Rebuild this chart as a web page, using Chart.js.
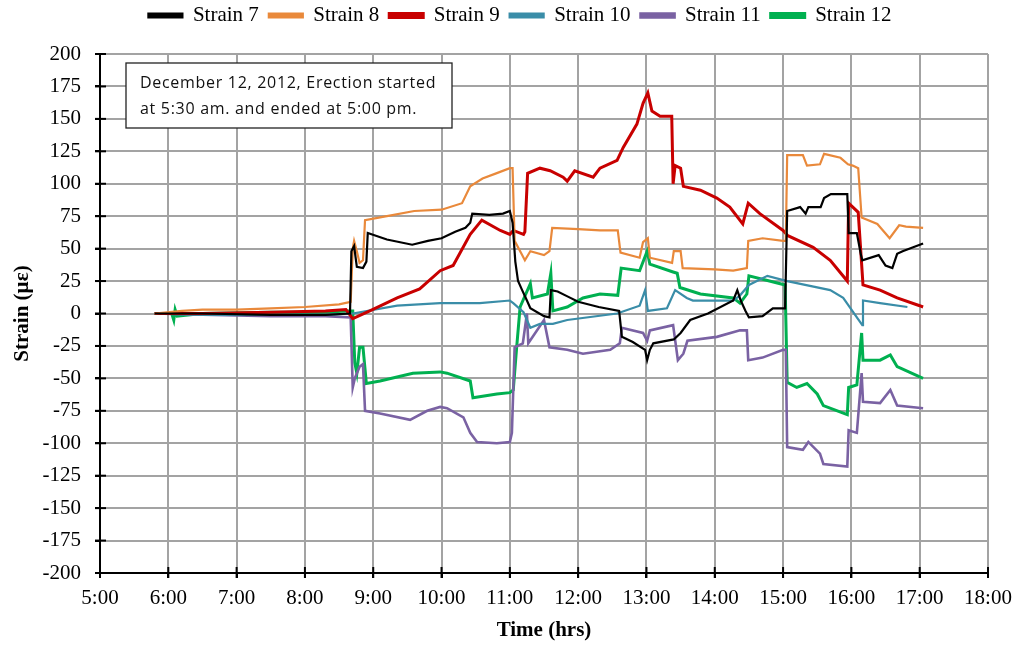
<!DOCTYPE html>
<html>
<head>
<meta charset="utf-8">
<script src="https://cdn.jsdelivr.net/npm/chart.js@4/dist/chart.umd.min.js"></script>
<style>
html,body{margin:0;padding:0;background:#fff;}
#wrap{width:1024px;height:647px;position:relative;}
</style>
</head>
<body>
<div id="wrap"><canvas id="c" width="1024" height="647"></canvas></div>
<script>
// ---- data (time in decimal hours, strain in microstrain) ----
const seriesNames = ["Strain 7","Strain 8","Strain 9","Strain 10","Strain 11","Strain 12"];
const xTickLabels = ["5:00","6:00","7:00","8:00","9:00","10:00","11:00","12:00","13:00","14:00","15:00","16:00","17:00","18:00"];
const noteLines = ["December 12, 2012, Erection started","at 5:30 am. and ended at 5:00 pm."];

const s7Time = [5.8,6.5,7.5,8.3,8.66,8.68,8.72,8.76,8.85,8.9,8.92,9.2,9.57,9.8,10.0,10.2,10.35,10.42,10.45,10.7,10.9,11.0,11.04,11.08,11.12,11.18,11.25,11.3,11.5,11.58,11.6,11.7,11.85,12.0,12.3,12.6,12.64,12.8,12.98,13.01,13.05,13.1,13.4,13.5,13.64,13.9,14.27,14.33,14.38,14.45,14.5,14.7,14.85,15.03,15.06,15.25,15.33,15.37,15.55,15.6,15.7,15.94,15.96,16.08,16.14,16.16,16.4,16.5,16.6,16.67,16.75,17.05];
const s7Vals = [0,0,-1,-1,0,48,52,36,35,40,62,57,53,56,58,63,66,70,77,76,77,79,70,40,25,18,10,4,-2,-3,18,17,13,9,5,2,-18,-22,-28,-36,-28,-23,-20,-15,-5,0,10,18,10,2,-3,-2,4,4,79,82,77,82,82,89,92,92,62,62,45,41,45,37,35,46,48,54];

const s8Time = [5.8,6.2,6.5,7.0,7.5,8.0,8.5,8.67,8.70,8.72,8.76,8.8,8.85,8.88,9.2,9.6,10.0,10.3,10.42,10.6,10.8,11.0,11.04,11.07,11.18,11.22,11.3,11.5,11.58,11.62,12.0,12.32,12.58,12.62,12.9,12.95,13.02,13.05,13.375,13.4,13.5,13.53,14.0,14.27,14.47,14.49,14.7,15.0,15.04,15.06,15.29,15.35,15.54,15.6,15.84,15.95,16.02,16.1,16.15,16.38,16.56,16.7,16.8,17.05];
const s8Vals = [0,2,3,3,4,5,7,9,50,56,48,39,41,72,75,79,80,85,98,104,108,112,112,56,45,41,48,45,48,66,65,64,64,47,43,55,58,43,39,48,48,35,34,33,35,56,58,56,56,122,122,114,115,123,120,115,114,112,74,69,58,68,67,66];

const s9Time = [5.8,6.5,7.5,8.3,8.6,8.7,8.95,9.35,9.68,9.98,10.17,10.42,10.59,10.86,11.0,11.05,11.2,11.22,11.26,11.44,11.59,11.78,11.84,11.95,12.22,12.32,12.57,12.66,12.86,12.95,13.02,13.08,13.2,13.37,13.39,13.42,13.5,13.54,13.79,14.03,14.22,14.41,14.49,14.66,15.0,15.07,15.44,15.69,15.94,15.96,16.1,16.17,16.42,16.67,17.0,17.05];
const s9Vals = [0,0,1,2,3,-4,2,12,19,33,37,61,72,64,61,64,61,63,108,112,110,105,102,110,105,112,118,128,146,162,170,156,152,152,100,114,112,98,95,89,82,69,85,77,64,60,51,41,25,85,78,22,18,12,6,5];

const s10Time = [5.8,6.5,7.5,8.3,8.7,9.35,9.98,10.56,11.0,11.05,11.2,11.3,11.44,11.63,11.84,12.57,12.9,12.98,13.02,13.3,13.42,13.59,13.68,14.27,14.37,14.5,14.77,15.06,15.69,15.88,16.16,16.17,16.42,16.82];
const s10Vals = [0,-1,-1,-1,0,6,8,8,10,8,1,-11,-8,-8,-5,0,6,18,2,4,18,12,10,10,14,22,29,25,18,12,-9,10,8,5];

const s11Time = [5.8,6.5,7.5,8.3,8.67,8.7,8.73,8.8,8.85,8.88,9.1,9.54,9.79,9.98,10.08,10.32,10.42,10.52,10.81,11.0,11.03,11.07,11.19,11.25,11.27,11.5,11.58,11.84,12.07,12.47,12.61,12.64,12.95,13.01,13.05,13.39,13.46,13.54,13.6,14.03,14.37,14.47,14.49,14.7,15.0,15.04,15.06,15.29,15.37,15.54,15.59,15.94,15.96,16.08,16.15,16.17,16.42,16.57,16.67,17.05];
const s11Vals = [0,-1,-2,-2,-3,-57,-50,-41,-39,-75,-77,-82,-75,-72,-73,-80,-92,-99,-100,-99,-92,-26,-23,0,-23,-5,-26,-28,-31,-28,-23,-11,-15,-21,-13,-9,-36,-31,-21,-18,-13,-13,-36,-34,-28,-28,-103,-105,-99,-108,-116,-118,-90,-92,-46,-68,-69,-59,-71,-73];

const s12Time = [5.8,6.05,6.08,6.1,6.13,6.5,7.5,8.3,8.6,8.7,8.73,8.76,8.8,8.85,8.9,9.1,9.58,9.98,10.08,10.42,10.46,10.81,11.0,11.05,11.1,11.15,11.3,11.33,11.55,11.6,11.63,11.84,12.07,12.32,12.58,12.63,12.9,13.01,13.05,13.39,13.45,13.49,13.79,14.27,14.37,14.47,14.5,14.8,15.03,15.06,15.2,15.35,15.5,15.59,15.94,15.96,16.08,16.15,16.17,16.42,16.57,16.67,17.05];
const s12Vals = [0,0,-5,3,-2,0,1,1,2,2,-38,-46,-26,-26,-54,-52,-46,-45,-46,-52,-65,-62,-61,-59,-26,5,23,12,15,31,2,5,12,15,14,35,33,48,38,32,31,20,15,12,8,15,29,25,22,-53,-57,-54,-62,-71,-78,-57,-55,-15,-36,-36,-32,-41,-50];

const seriesTimes = [s7Time,s8Time,s9Time,s10Time,s11Time,s12Time];
const seriesVals  = [s7Vals,s8Vals,s9Vals,s10Vals,s11Vals,s12Vals];
const seriesColors = ["#000000","#E9893B","#C80000","#3A8DA8","#7A62A3","#00B050"];
const seriesWidths = [2.2,2.2,3,2.2,2.6,3];

const datasets = seriesNames.map((n,i)=>({
  label:n,
  data: seriesTimes[i].map((t,j)=>({x:t,y:seriesVals[i][j]})),
  borderColor: seriesColors[i],
  backgroundColor: seriesColors[i],
  borderWidth: seriesWidths[i],
  pointRadius:0,
  tension:0,
  fill:false
}));

const serif = "'Liberation Serif','Times New Roman',serif";
const LEGEND_HEIGHT = 59;
const LEGEND_SHIFT = 26;

const legendFix = {
  id:'legendFix',
  beforeLayout(chart){
    const lg = chart.legend;
    if (lg && !lg._fixed){
      const orig = lg.fit.bind(lg);
      lg.fit = function(){ orig(); this.height = LEGEND_HEIGHT; };
      lg._fixed = true;
    }
  },
  afterLayout(chart){
    const lg = chart.legend;
    if (lg){ lg.left += LEGEND_SHIFT; lg.right += LEGEND_SHIFT; }
  }
};

const crossTicks = {
  id:'crossTicks',
  afterDraw(chart){
    const ctx = chart.ctx, ca = chart.chartArea;
    const xs = chart.scales.x, ys = chart.scales.y;
    ctx.save();
    ctx.strokeStyle = '#000'; ctx.lineWidth = 2;
    ys.ticks.forEach(t=>{
      const p = ys.getPixelForValue(t.value);
      ctx.beginPath(); ctx.moveTo(ca.left-5,p); ctx.lineTo(ca.left+6,p); ctx.stroke();
    });
    xs.ticks.forEach(t=>{
      const p = xs.getPixelForValue(t.value);
      ctx.beginPath(); ctx.moveTo(p,ca.bottom-6); ctx.lineTo(p,ca.bottom+5); ctx.stroke();
    });
    ctx.beginPath(); ctx.moveTo(ca.left,ca.top); ctx.lineTo(ca.left,ca.bottom); ctx.lineTo(ca.right,ca.bottom); ctx.stroke();
    // note box
    const bx = ca.left+26, by = ca.top+9, bw = 326, bh = 65;
    ctx.fillStyle = '#fff'; ctx.fillRect(bx,by,bw,bh);
    ctx.strokeStyle = '#222'; ctx.lineWidth = 1.3; ctx.strokeRect(bx,by,bw,bh);
    ctx.fillStyle = '#111';
    ctx.font = "16px 'Open Sans','Noto Sans',sans-serif";
    ctx.textBaseline = 'alphabetic';
    try { ctx.letterSpacing = '0.7px'; } catch(e) {}
    ctx.fillText(noteLines[0], bx+14, by+25);
    ctx.fillText(noteLines[1], bx+14, by+51);
    ctx.restore();
  }
};

new Chart(document.getElementById('c'),{
  type:'line',
  data:{datasets},
  options:{
    responsive:false,
    animation:false,
    layout:{padding:{left:0,right:36,top:-5,bottom:0}},
    plugins:{
      legend:{
        position:'top',
        labels:{font:{family:serif,size:21},color:'#000',boxWidth:34,boxHeight:4,padding:10}
      },
      tooltip:{enabled:false}
    },
    scales:{
      x:{
        type:'linear',min:5,max:18,
        ticks:{stepSize:1,color:'#000',font:{family:serif,size:21},padding:8,maxRotation:0,
          callback:(v)=>xTickLabels[Math.round(v-5)]},
        grid:{color:'#a3a3a3',lineWidth:2,tickLength:5,tickColor:'#000'},
        border:{color:'#000',width:2},
        title:{display:true,text:'Time (hrs)',color:'#000',font:{family:serif,size:21,weight:'bold'},padding:{top:4}},
        afterFit(s){s.height=74;}
      },
      y:{
        min:-200,max:200,
        ticks:{stepSize:25,color:'#000',font:{family:serif,size:21},padding:14},
        grid:{color:'#a3a3a3',lineWidth:2,tickLength:5,tickColor:'#000'},
        border:{color:'#000',width:2},
        title:{display:true,text:'Strain (µε)',color:'#000',font:{family:serif,size:21,weight:'bold'},padding:{top:10,bottom:0}},
        afterFit(s){s.width=100;}
      }
    }
  },
  plugins:[legendFix,crossTicks]
});
</script>
</body>
</html>
